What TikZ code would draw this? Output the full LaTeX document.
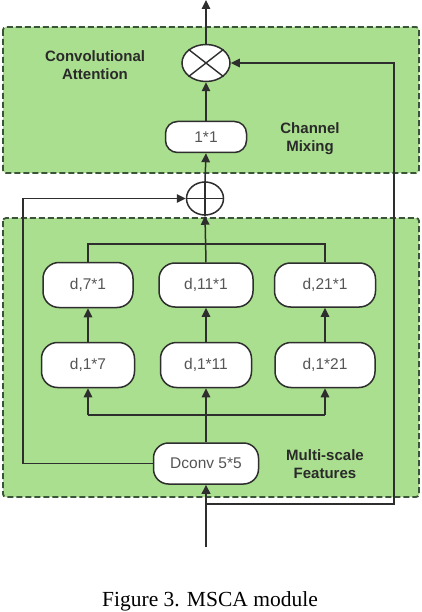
\documentclass[tikz,border=0pt]{standalone}
\usepackage{fontspec}
\setmainfont{Liberation Serif}
\setsansfont{Liberation Sans}
\usetikzlibrary{arrows.meta,shapes.geometric}
\definecolor{grfill}{HTML}{A9DF8E}
\definecolor{grline}{HTML}{3A543A}
\definecolor{lnc}{HTML}{2E2E2E}
\definecolor{txt}{HTML}{555555}
\definecolor{btxt}{HTML}{2A2A2A}
\tikzset{
  region/.style={draw=grline, fill=grfill, line width=1.8pt, dash pattern=on 6pt off 3pt, rounded corners=3pt},
  opbox/.style={draw=lnc, fill=white, line width=1.5pt, rounded corners=16pt, inner sep=0pt,
     font=\sffamily\fontsize{15.5}{15.5}\selectfont, text=txt},
  opcirc/.style={draw=lnc, fill=white, ellipse, line width=1.5pt, inner sep=0pt},
  arr/.style={draw=lnc, line width=1.5pt, -{Triangle[length=9pt,width=8.5pt]}},
  ln/.style={draw=lnc, line width=1.5pt},
  lbl/.style={align=center, font=\sffamily\bfseries\fontsize{15}{18}\selectfont, text=btxt},
}
\begin{document}
\begin{tikzpicture}[x=1pt,y=-1pt]
\useasboundingbox (0,0) rectangle (422,612);
\fill[white] (0,0) rectangle (422,612);
% regions
\draw[region] (3,27) rectangle (419,173);
\draw[region] (3,218) rectangle (419,497);
% labels
\node[lbl] (latt) at (95,65) {Convolutional\\Attention};
\node[lbl] (lmix) at (310,139) {Channel\\Mixing};
\node[lbl] (lms) at (325,464) {Multi-scale\\Features};
% nodes
\node[opcirc, minimum width=48pt, minimum height=37pt] (mul) at (206,63) {};
\draw[lnc, line width=1.4pt] (mul.north west) -- (mul.south east) (mul.north east) -- (mul.south west);
\node[opbox, minimum width=81pt, minimum height=31pt, rounded corners=12pt] (one) at (206,137) {1*1};
\node[opcirc, minimum width=37pt, minimum height=33pt] (add) at (205,198.5) {};
\node[opbox, minimum width=90pt, minimum height=45pt] (v1) at (88,285) {d,7*1};
\node[opbox, minimum width=94pt, minimum height=44pt] (v2) at (206,285) {d,11*1};
\node[opbox, minimum width=101pt, minimum height=44pt] (v3) at (325,285) {d,21*1};
\node[opbox, minimum width=93pt, minimum height=45pt] (h1) at (88,365) {d,1*7};
\node[opbox, minimum width=91pt, minimum height=45pt] (h2) at (206,365) {d,1*11};
\node[opbox, minimum width=100pt, minimum height=45pt] (h3) at (325,365) {d,1*21};
\node[opbox, minimum width=105pt, minimum height=41pt, rounded corners=15pt] (dc) at (206,463.5) {Dconv 5*5};
\node[font=\fontsize{21.5}{21.5}\selectfont] (cap) at (210,601) {Figure 3. MSCA module};
% coordinates
\coordinate (inp) at (206,547);
\coordinate (split) at (206,504);
\coordinate (out) at (206,0);
\coordinate (rx) at (394,0);
\coordinate (lx) at (23,0);
\coordinate (br) at (206,415);
\coordinate (mg) at (206,244);
% connectors
\draw[arr, line width=2pt] (inp) -- (dc.south);
\draw[arr] (split) -- (split -| rx) |- (mul.east);
\draw[arr] (dc.west) -- (dc.west -| lx) |- (add.west);
\draw[ln, line width=2.4pt] (dc.north) -- (br);
\draw[ln, line width=1.8pt] (br -| h1.south) -- (br -| h3.south);
\draw[arr] (br -| h1.south) -- (h1.south);
\draw[arr] (br) -- (h2.south);
\draw[arr] (br -| h3.south) -- (h3.south);
\draw[arr] (h1.north) -- (v1.south);
\draw[arr] (h2.north) -- (v2.south);
\draw[arr] (h3.north) -- (v3.south);
\draw[ln] (v1.north) -- (mg -| v1.north) -- (mg -| v3.north) -- (v3.north);
\draw[arr] (v2.north) -- (add.south);
\draw[lnc, line width=1.4pt] (add.west) -- (add.east) (add.north) -- (add.south);
\draw[arr] (add.north) -- (one.south);
\draw[arr] (one.north) -- (mul.south);
\draw[arr] (mul.north) -- (out);
\end{tikzpicture}
\end{document}
